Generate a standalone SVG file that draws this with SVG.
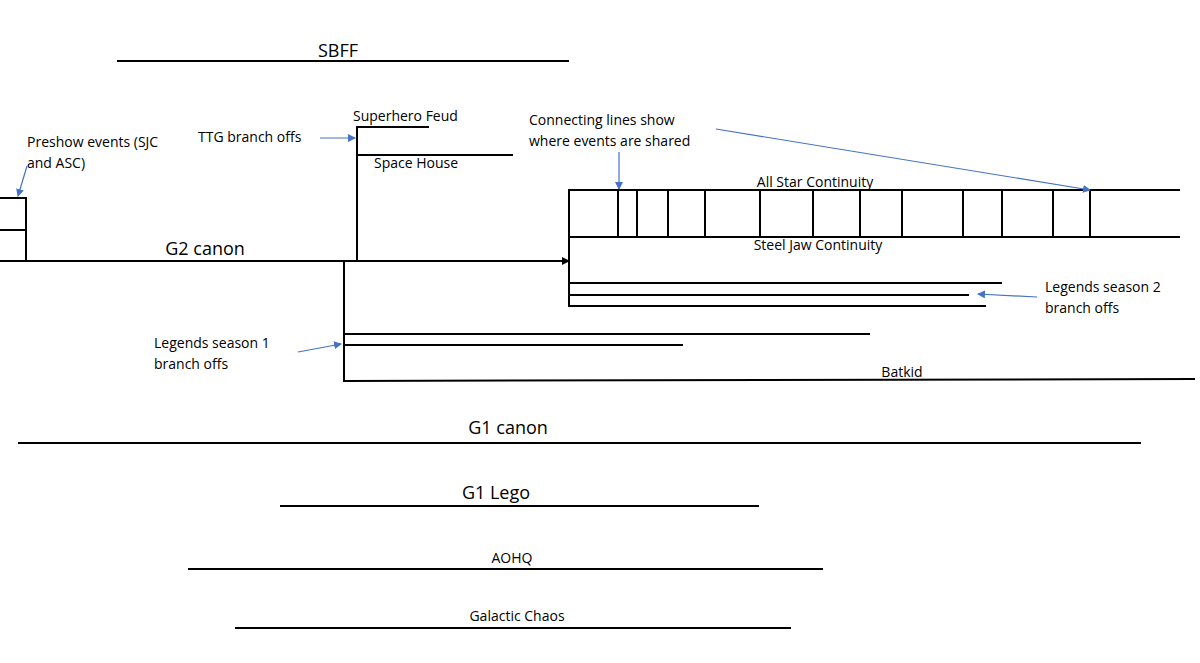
<svg xmlns="http://www.w3.org/2000/svg" width="1200" height="663" viewBox="0 0 1200 663">
<style>
.l{stroke:#000;stroke-width:2;fill:none}
.b{stroke:#4472c4;stroke-width:1.2;fill:none;marker-end:url(#ba)}
text{font-family:"Open Sans","Noto Sans",sans-serif;fill:#000}
.s{font-size:14px}
.m{font-size:18px}
</style>
<defs>
<marker id="ba" markerWidth="8" markerHeight="8" refX="7" refY="4" orient="auto" markerUnits="userSpaceOnUse"><path d="M0,0L8,4L0,8z" fill="#4472c4"/></marker>
<marker id="ka" markerWidth="8" markerHeight="8" refX="7" refY="4" orient="auto" markerUnits="userSpaceOnUse"><path d="M0,0L8,4L0,8z" fill="#000"/></marker>
</defs>
<rect width="1200" height="663" fill="#fff"/>
<g id="sbff"><line class="l" x1="117" y1="61" x2="569" y2="61"/><text class="m" x="338" y="57" text-anchor="middle">SBFF</text></g>
<g id="preshow"><path class="l" d="M0,198H26V261M0,230H26"/><text class="s" x="27" y="147">Preshow events (SJC</text><text class="s" x="27" y="168">and ASC)</text></g>
<g id="g2"><text class="m" x="205" y="255" text-anchor="middle">G2 canon</text></g>
<g id="ttg"><path class="l" d="M357,261V127H429M357,155H513"/><text class="s" x="353" y="121">Superhero Feud</text><text class="s" x="374" y="168">Space House</text><text class="s" x="198" y="142">TTG branch offs</text></g>
<g id="allstar"><path class="l" d="M569,237V190H1180M569,237H1180M618,190V237M637,190V237M668,190V237M705,190V237M760,190V237M813,190V237M860,190V237M902,190V237M963,190V237M1002,190V237M1053,190V237M1090,190V237"/><text class="s" x="815" y="187" text-anchor="middle">All Star Continuity</text><text class="s" x="818" y="250" text-anchor="middle">Steel Jaw Continuity</text><text class="s" x="529" y="125">Connecting lines show</text><text class="s" x="529" y="146">where events are shared</text></g>
<g id="legends2"><path class="l" d="M569,237V306H986M569,283H1002M569,295H969"/><text class="s" x="1045" y="292">Legends season 2</text><text class="s" x="1045" y="313">branch offs</text></g>
<g id="legends1"><path class="l" d="M344,261V381L1195,379M344,334H870M344,345H683"/><text class="s" x="154" y="348">Legends season 1</text><text class="s" x="154" y="369">branch offs</text><text class="s" x="902" y="377" text-anchor="middle">Batkid</text></g>
<g id="g1"><line class="l" x1="18" y1="443" x2="1141" y2="443"/><text class="m" x="508" y="434" text-anchor="middle">G1 canon</text></g>
<g id="g1lego"><line class="l" x1="280" y1="506" x2="759" y2="506"/><text class="m" x="496" y="499" text-anchor="middle">G1 Lego</text></g>
<g id="aohq"><line class="l" x1="188" y1="569" x2="823" y2="569"/><text class="s" x="512" y="563" text-anchor="middle">AOHQ</text></g>
<g id="gc"><line class="l" x1="235" y1="628" x2="791" y2="628"/><text class="s" x="517" y="621" text-anchor="middle">Galactic Chaos</text></g>
<g id="connectors">
<line class="l" x1="0" y1="261" x2="569" y2="261" marker-end="url(#ka)"/>
<line class="b" x1="27" y1="166" x2="18" y2="196"/>
<line class="b" x1="320" y1="138" x2="355" y2="138"/>
<line class="b" x1="619" y1="152" x2="619" y2="189"/>
<line class="b" x1="716" y1="129" x2="1090" y2="190"/>
<line class="b" x1="1037" y1="297" x2="978" y2="294"/>
<line class="b" x1="298" y1="352" x2="341" y2="344"/>
</g>
</svg>
